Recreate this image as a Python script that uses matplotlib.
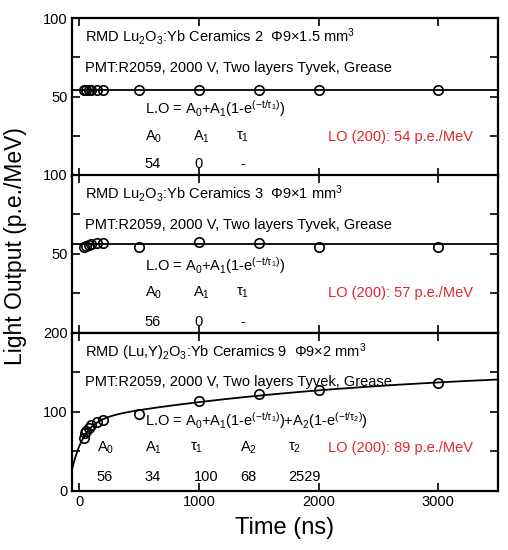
import numpy as np
import matplotlib
matplotlib.use("Agg")
import matplotlib.pyplot as plt
from matplotlib.ticker import FixedLocator

plt.rcParams['font.family'] = ['Liberation Sans', 'DejaVu Sans']
plt.rcParams['mathtext.fontset'] = 'custom'
plt.rcParams['mathtext.rm'] = 'Liberation Sans'
plt.rcParams['mathtext.it'] = 'Liberation Sans'
plt.rcParams['mathtext.bf'] = 'Liberation Sans:bold'

# ---- data ----
t1 = [40, 60, 80, 100, 150, 200, 500, 1000, 1500, 2000, 3000]
lo1 = [54, 54, 54, 54, 54, 54, 54, 54, 54, 54, 54]
fit1_A0, fit1_A1 = 54, 0

t2 = [40, 60, 80, 100, 150, 200, 500, 1000, 1500, 2000, 3000]
lo2 = [54.5, 55.0, 55.8, 56.0, 56.9, 56.9, 54.5, 57.7, 56.9, 54.0, 54.0]
fit2_A0, fit2_A1 = 56, 0

t3 = [40, 50, 60, 80, 100, 150, 200, 500, 1000, 1500, 2000, 3000]
lo3 = [67, 73, 76, 80, 83, 87, 89, 97, 114, 122, 128, 137]
fit3_A0, fit3_A1, fit3_tau1, fit3_A2, fit3_tau2 = 56, 34, 100, 68, 2529

titles = [r'RMD Lu$_2$O$_3$:Yb Ceramics 2  Φ9×1.5 mm$^3$',
          r'RMD Lu$_2$O$_3$:Yb Ceramics 3  Φ9×1 mm$^3$',
          r'RMD (Lu,Y)$_2$O$_3$:Yb Ceramics 9  Φ9×2 mm$^3$']
pmt = 'PMT:R2059, 2000 V, Two layers Tyvek, Grease'
lo200 = ['LO (200): 54 p.e./MeV', 'LO (200): 57 p.e./MeV', 'LO (200): 89 p.e./MeV']

xlim = (-60, 3500)
red = '#e0262b'
fs = 10.5

fig = plt.figure(figsize=(5.08, 5.5), dpi=100)
L, W = 72/508, 426/508
tops = [18, 175, 333]
H = 157.5/550
axes = []
for top in tops:
    axes.append(fig.add_axes([L, 1 - (top + 157.5)/550, W, H]))

def style(ax, ymax, major, minor, showlabels):
    ax.set_xlim(*xlim)
    ax.set_ylim(0, ymax)
    ax.yaxis.set_major_locator(FixedLocator(major))
    ax.yaxis.set_minor_locator(FixedLocator(minor))
    ax.xaxis.set_major_locator(FixedLocator([0, 1000, 2000, 3000]))
    ax.tick_params(which='both', direction='in', top=True, right=True,
                   width=1.2, labelsize=fs, pad=3)
    ax.tick_params(which='major', length=6)
    ax.tick_params(which='minor', length=6)
    if not showlabels:
        ax.tick_params(labelbottom=False)
    for s in ax.spines.values():
        s.set_linewidth(1.6)

tt = np.linspace(xlim[0], xlim[1], 600)
mk = dict(marker='o', ms=6.8, mfc='none', mec='black', mew=1.2, ls='none')

# panel 1
ax = axes[0]
style(ax, 100, [50, 100], [25, 75], False)
ax.plot(tt, np.full_like(tt, fit1_A0 + fit1_A1), color='black', lw=1.3)
ax.plot(t1, lo1, **mk)
# panel 2
ax = axes[1]
style(ax, 100, [50, 100], [25, 75], False)
ax.plot(tt, np.full_like(tt, fit2_A0 + fit2_A1), color='black', lw=1.3)
ax.plot(t2, lo2, **mk)
# panel 3
ax = axes[2]
style(ax, 200, [0, 100, 200], [50, 150], True)
fit3 = fit3_A0 + fit3_A1*(1 - np.exp(-tt/fit3_tau1)) + fit3_A2*(1 - np.exp(-tt/fit3_tau2))
ax.plot(tt, fit3, color='black', lw=1.3)
ax.plot(t3, lo3, **mk)

# texts
formula1 = r'L.O = A$_0$+A$_1$(1-e$^{(-t/τ_1)}$)'
formula3 = r'L.O = A$_0$+A$_1$(1-e$^{(-t/τ_1)}$)+A$_2$(1-e$^{(-t/τ_2)}$)'
ys = [(0.88, 0.68, 0.425, 0.245, 0.075),
      (0.88, 0.68, 0.427, 0.25, 0.066),
      (0.88, 0.69, 0.446, 0.27, 0.083)]
for i, ax in enumerate(axes):
    yt, yp, yf, ya, yv = ys[i]
    tr = ax.transAxes
    ax.text(0.03, yt, titles[i], transform=tr, fontsize=fs, va='center')
    ax.text(0.03, yp, pmt, transform=tr, fontsize=fs, va='center')
    ax.text(0.171, yf, formula1 if i < 2 else formula3, transform=tr, fontsize=fs, va='center')
    ax.text(0.941, ya, lo200[i], transform=tr, fontsize=fs, va='center', ha='right', color=red)

# parameter tables
for i, (A0, A1) in enumerate([(fit1_A0, fit1_A1), (fit2_A0, fit2_A1)]):
    ax = axes[i]
    tr = ax.transAxes
    _, _, _, ya, yv = ys[i]
    ax.text(0.171, ya, r'A$_0$', transform=tr, fontsize=fs, va='center')
    ax.text(0.284, ya, r'A$_1$', transform=tr, fontsize=fs, va='center')
    ax.text(0.385, ya, r'τ$_1$', transform=tr, fontsize=fs, va='center')
    ax.text(0.171, yv, str(A0), transform=tr, fontsize=fs, va='center')
    ax.text(0.297, yv, str(A1), transform=tr, fontsize=fs, va='center', ha='center')
    ax.text(0.400, yv, '-', transform=tr, fontsize=fs, va='center', ha='center')

ax = axes[2]
tr = ax.transAxes
_, _, _, ya, yv = ys[2]
heads = [r'A$_0$', r'A$_1$', r'τ$_1$', r'A$_2$', r'τ$_2$']
vals = [fit3_A0, fit3_A1, fit3_tau1, fit3_A2, fit3_tau2]
hx = [0.058, 0.171, 0.277, 0.394, 0.507]
vx = [0.058, 0.171, 0.286, 0.394, 0.507]
for h, x in zip(heads, hx):
    ax.text(x, ya, h, transform=tr, fontsize=fs, va='center')
for v, x in zip(vals, vx):
    ax.text(x, yv, str(v), transform=tr, fontsize=fs, va='center')

fig.text(16/508, 1 - 246/550, 'Light Output (p.e./MeV)', rotation=90,
         fontsize=16.5, ha='center', va='center')
fig.text((L + W/2), 1 - 528/550, 'Time (ns)', fontsize=17, ha='center', va='center')

fig.savefig('out.png', dpi=100)
